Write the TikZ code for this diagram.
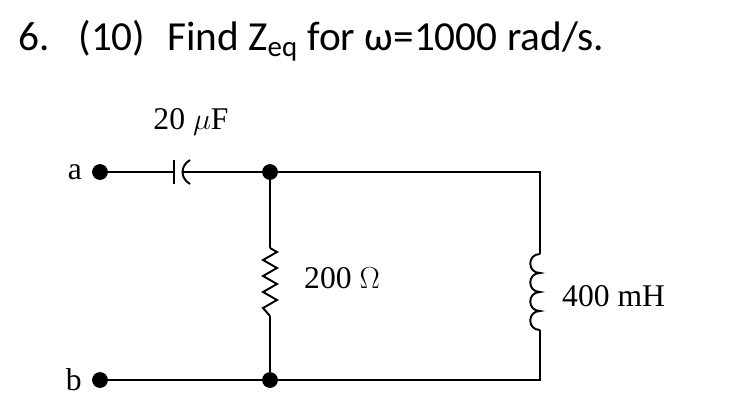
\documentclass[tikz,border=0pt]{standalone}
\usepackage{fontspec}
\setmainfont{Liberation Serif}
\newfontfamily\titlefont{Carlito}
\begin{document}
\begin{tikzpicture}[x=0.02cm,y=-0.02cm,
  wire/.style={line width=1.1pt},
  dot/.style={circle,fill=black,inner sep=0pt,minimum size=9pt},
  lbl/.style={font=\fontsize{18}{21}\selectfont}]
\useasboundingbox (0,0) rectangle (736,416);
% title
\node[anchor=base west,inner sep=0pt,font=\titlefont\fontsize{23.5}{27}\selectfont] (title) at (18,50)
  {6.\hspace{0.7em}(10)\hspace{0.3em} Find Z\textsubscript{eq} for ω=1000 rad/s.};
% terminals and junctions
\node[dot] (a) at (100,172) {};
\node[dot] (b) at (100,380) {};
\node[dot] (n1) at (270,172) {};
\node[dot] (n2) at (270,380) {};
\node[lbl,anchor=east] (la) at (88,172) {a};
\node[lbl,anchor=east] (lb) at (88,380) {b};
\coordinate (c1) at (174,172);
\coordinate (c2) at (183,172);
\coordinate (tr) at (540,172);
\coordinate (br) at (540,380);
\coordinate (r1) at (270,248);
\coordinate (r2) at (270,316);
\coordinate (l1) at (540,254);
\coordinate (l2) at (540,330);
% wires
\draw[wire] (a) -- (c1);
\draw[wire] (c2) -- (n1) -- (tr) -- (l1);
\draw[wire] (l2) -- (br) -- (n2) -- (b);
\draw[wire] (n1) -- (r1);
\draw[wire] (r2) -- (n2);
% capacitor
\draw[wire] (174,160) -- (174,184);
\draw[wire] (190,160) .. controls (180,166) and (180,178) .. (190,184);
% resistor
\draw[wire] (r1) -- (277,252) -- (263,260) -- (277,268) -- (263,276) -- (277,284)
  -- (263,292) -- (277,300) -- (263,308) -- (r2);
% inductor
\draw[wire] (l1) .. controls (527,254) and (527,273) .. (540,273)
  .. controls (527,273) and (527,292) .. (540,292)
  .. controls (527,292) and (527,311) .. (540,311)
  .. controls (527,311) and (527,330) .. (l2);
% labels
\node[lbl] (lc) at (191,122) {20 $\mu$F};
\node[lbl,anchor=west] (lr) at (298,278) {200 $\Omega$};
\node[lbl,anchor=west] (ll) at (556,296) {400 mH};
\end{tikzpicture}
\end{document}
